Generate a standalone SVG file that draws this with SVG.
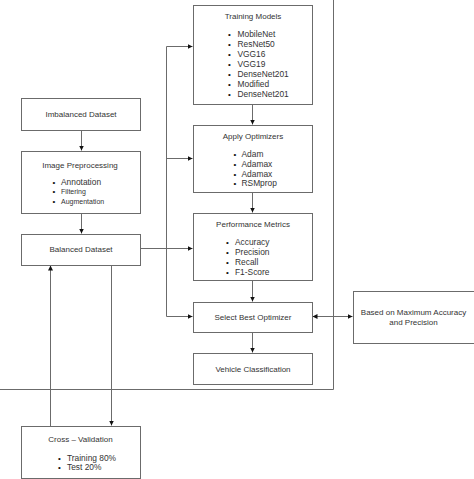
<svg xmlns="http://www.w3.org/2000/svg" width="474" height="479" viewBox="0 0 474 479">
<style>
.box{fill:#fff;stroke:#6b6b6b;stroke-width:1}
.ln{fill:none;stroke:#6b6b6b;stroke-width:1}
text{font-family:"Liberation Sans",Arial,sans-serif;fill:#333}
.t{font-size:8px;text-anchor:middle}
.b{font-size:8.4px}
.s{font-size:7px}
.d{font-size:8px;fill:#111}
</style>
<defs>
<marker id="ah" viewBox="0 0 6 6" refX="6" refY="3" markerWidth="5" markerHeight="5" orient="auto-start-reverse" markerUnits="userSpaceOnUse">
<path d="M0,0 L6,3 L0,6 Z" fill="#111"/>
</marker>
</defs>
<rect width="474" height="479" fill="#fff"/>
<g id="frame"><path class="ln" d="M0,389.5 H333.5 V0"/></g>
<g id="connectors">
<path class="ln" d="M81.5,130 V150.5" marker-end="url(#ah)"/>
<path class="ln" d="M81.5,213 V233.5" marker-end="url(#ah)"/>
<path class="ln" d="M141,248.5 H166.5"/>
<path class="ln" d="M166.5,46.5 V316.5"/>
<path class="ln" d="M166.5,46.5 H192.5" marker-end="url(#ah)"/>
<path class="ln" d="M166.5,158.5 H192.5" marker-end="url(#ah)"/>
<path class="ln" d="M166.5,248.5 H192.5" marker-end="url(#ah)"/>
<path class="ln" d="M166.5,316.5 H192.5" marker-end="url(#ah)"/>
<path class="ln" d="M252.5,104 V124.5" marker-end="url(#ah)"/>
<path class="ln" d="M252.5,192 V212.5" marker-end="url(#ah)"/>
<path class="ln" d="M252.5,281 V301.5" marker-end="url(#ah)"/>
<path class="ln" d="M252.5,332 V352.5" marker-end="url(#ah)"/>
<path class="ln" d="M312.5,316.5 H352.5" marker-start="url(#ah)" marker-end="url(#ah)"/>
<path class="ln" d="M50.5,426 V265.5" marker-end="url(#ah)"/>
<path class="ln" d="M111.5,265 V425.5" marker-end="url(#ah)"/>
</g>
<g id="training">
<rect class="box" x="193.5" y="5.5" width="119" height="99"/>
<text class="t" x="253" y="18.5">Training Models</text>
<text class="d" x="228" y="36.6">•</text><text class="b" x="237.5" y="36.6">MobileNet</text>
<text class="d" x="228" y="46.6">•</text><text class="b" x="237.5" y="46.6">ResNet50</text>
<text class="d" x="228" y="56.6">•</text><text class="b" x="237.5" y="56.6">VGG16</text>
<text class="d" x="228" y="66.6">•</text><text class="b" x="237.5" y="66.6">VGG19</text>
<text class="d" x="228" y="76.6">•</text><text class="b" x="237.5" y="76.6">DenseNet201</text>
<text class="d" x="228" y="86.6">•</text><text class="b" x="237.5" y="86.6">Modified</text>
<text class="d" x="228" y="96.6">•</text><text class="b" x="237.5" y="96.6">DenseNet201</text>
</g>
<g id="optimizers">
<rect class="box" x="193.5" y="125.5" width="119" height="67"/>
<text class="t" x="253" y="138.5">Apply Optimizers</text>
<text class="d" x="233.5" y="157">•</text><text class="b" x="241.5" y="157">Adam</text>
<text class="d" x="233.5" y="166.7">•</text><text class="b" x="241.5" y="166.7">Adamax</text>
<text class="d" x="233.5" y="176.5">•</text><text class="b" x="241.5" y="176.5">Adamax</text>
<text class="d" x="233.5" y="186.2">•</text><text class="b" x="241.5" y="186.2">RSMprop</text>
</g>
<g id="metrics">
<rect class="box" x="193.5" y="213.5" width="119" height="67"/>
<text class="t" x="253" y="226.5">Performance Metrics</text>
<text class="d" x="226" y="245">•</text><text class="b" x="235" y="245">Accuracy</text>
<text class="d" x="226" y="255">•</text><text class="b" x="235" y="255">Precision</text>
<text class="d" x="226" y="265">•</text><text class="b" x="235" y="265">Recall</text>
<text class="d" x="226" y="274.7">•</text><text class="b" x="235" y="274.7">F1-Score</text>
</g>
<g id="select">
<rect class="box" x="193.5" y="302.5" width="119" height="30"/>
<text class="t" x="253" y="319.5">Select Best Optimizer</text>
</g>
<g id="vehicle">
<rect class="box" x="193.5" y="353.5" width="119" height="31"/>
<text class="t" x="253" y="371.5">Vehicle Classification</text>
</g>
<g id="based">
<rect class="box" x="353.5" y="291.5" width="130" height="52"/>
<text class="t" x="413.5" y="315">Based on Maximum Accuracy</text>
<text class="t" x="413.5" y="325.3">and Precision</text>
</g>
<g id="imbalanced">
<rect class="box" x="21.5" y="98.5" width="119" height="32"/>
<text class="t" x="81" y="117.2">Imbalanced Dataset</text>
</g>
<g id="preprocessing">
<rect class="box" x="21.5" y="151.5" width="119" height="62"/>
<text class="t" x="80" y="167.5">Image Preprocessing</text>
<text class="d" x="52.5" y="185">•</text><text class="b" x="61" y="185">Annotation</text>
<text class="d" x="52.5" y="194.2">•</text><text class="s" x="61" y="194.2">Filtering</text>
<text class="d" x="52.5" y="203.5">•</text><text class="s" x="61" y="203.5">Augmentation</text>
</g>
<g id="balanced">
<rect class="box" x="21.5" y="234.5" width="119" height="31"/>
<text class="t" x="81" y="252">Balanced Dataset</text>
</g>
<g id="crossval">
<rect class="box" x="21.5" y="426.5" width="119" height="52"/>
<text class="t" x="80.5" y="441.8">Cross – Validation</text>
<text class="d" x="58" y="460.5">•</text><text class="b" x="67" y="460.5">Training 80%</text>
<text class="d" x="58" y="470.1">•</text><text class="b" x="67" y="470.1">Test 20%</text>
</g>
</svg>
